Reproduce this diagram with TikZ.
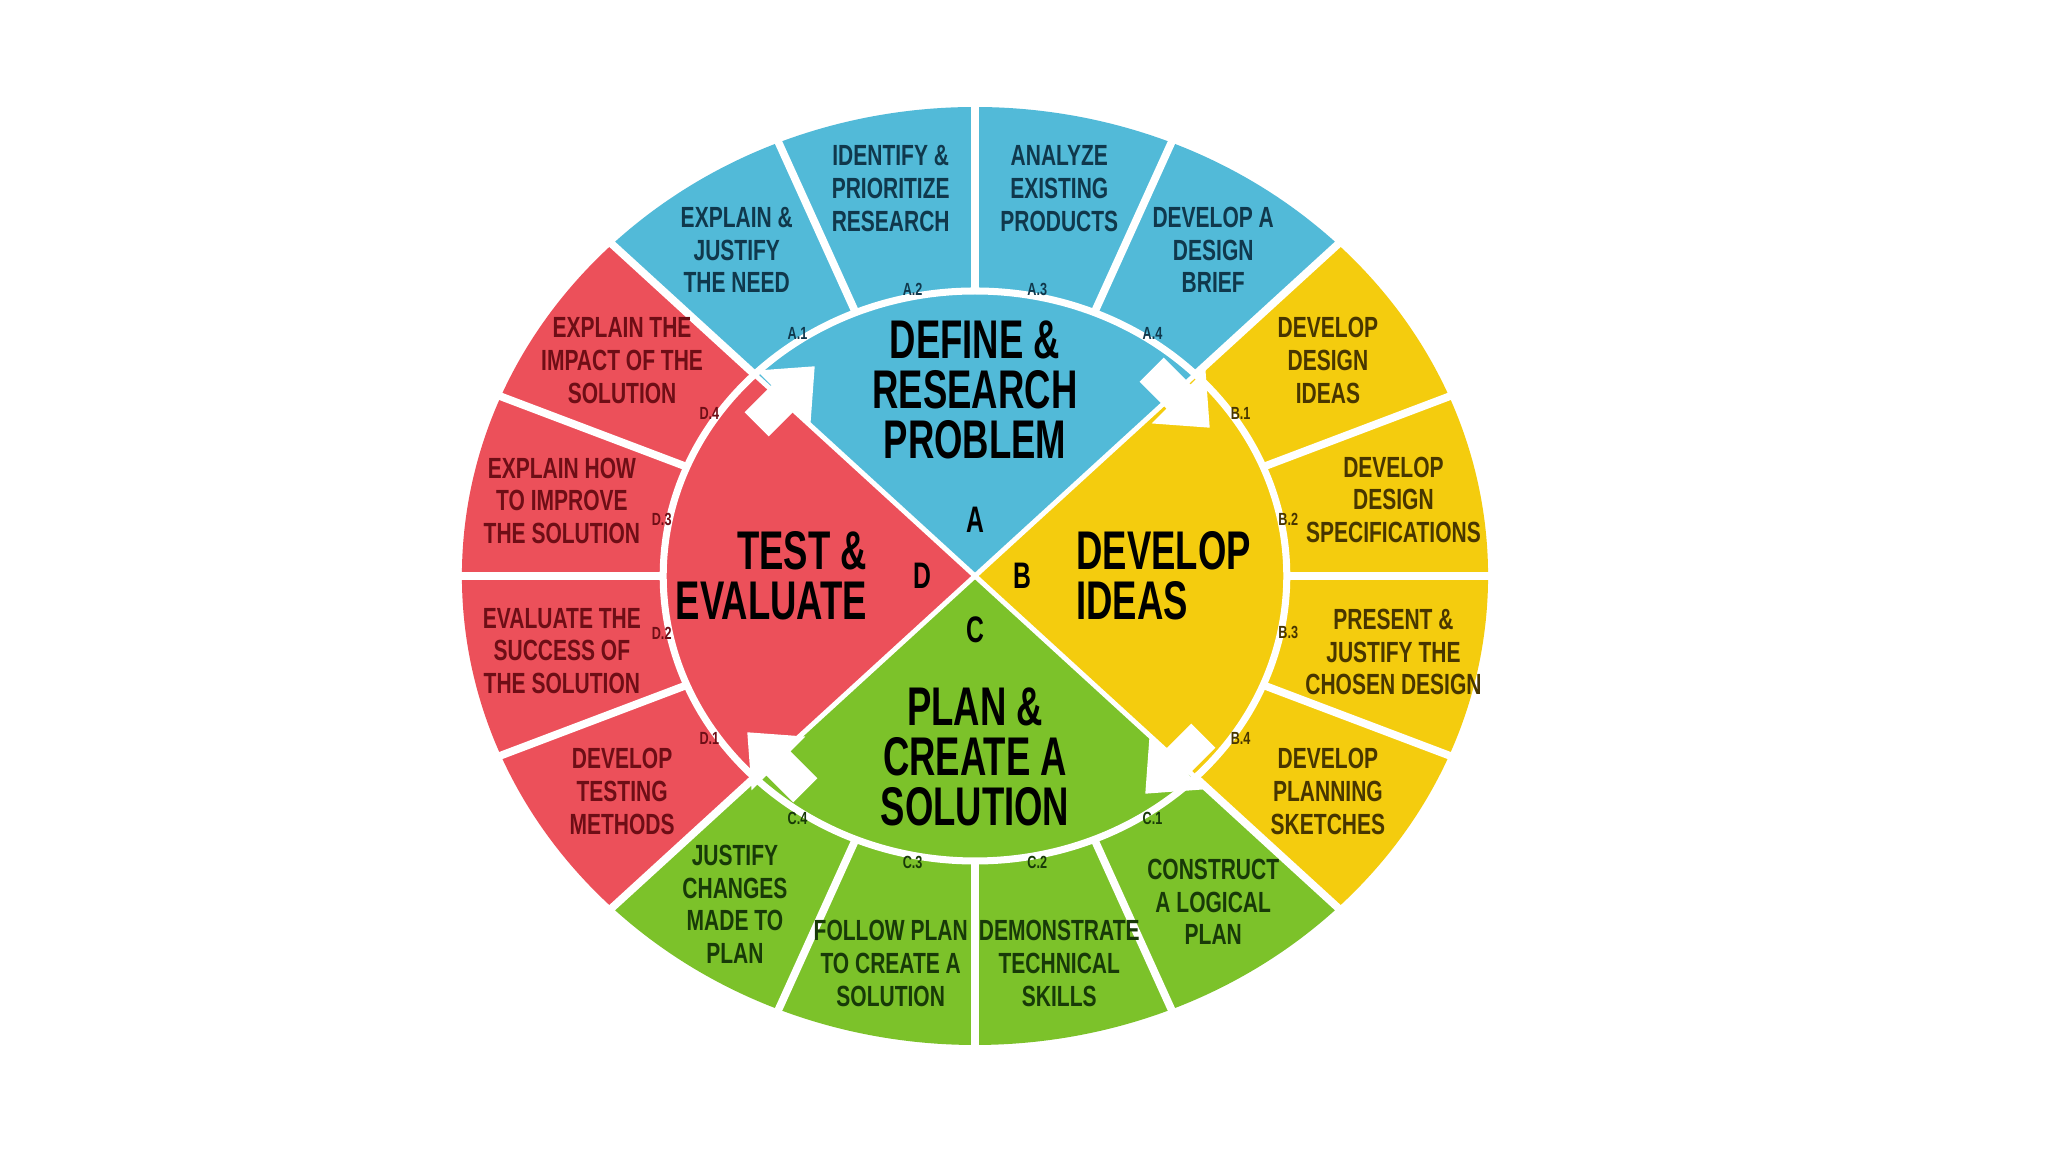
\documentclass[tikz,border=0pt]{standalone}
\usepackage{fontspec}
\setmainfont{Liberation Sans}
\newfontfamily\ringfont[FakeStretch=0.72]{Liberation Sans}
\newfontfamily\titlefont[FakeStretch=0.67]{Liberation Sans}
\usepackage{xcolor}
\usepackage{tikz}

\definecolor{defblue}{RGB}{82,186,216}
\definecolor{devyellow}{RGB}{244,204,14}
\definecolor{plangreen}{RGB}{124,194,42}
\definecolor{testred}{RGB}{236,80,90}
\definecolor{bluetext}{RGB}{16,56,76}
\definecolor{yellowtext}{RGB}{72,54,0}
\definecolor{greentext}{RGB}{24,58,8}
\definecolor{redtext}{RGB}{110,14,22}

\begin{document}
\begin{tikzpicture}
    [ringtext/.style = {align=center, inner sep=0pt,
                        font=\ringfont\bfseries\fontsize{8.3}{9.3}\selectfont},
     tag/.style = {inner sep=0pt,
                   font=\ringfont\bfseries\fontsize{5}{5}\selectfont},
     title/.style = {align=center, inner sep=0pt,
                     font=\titlefont\bfseries\fontsize{15.5}{14.2}\selectfont},
     letter/.style = {inner sep=0pt,
                      font=\titlefont\bfseries\fontsize{10.5}{10.5}\selectfont},
     divider/.style = {white, line width=2.2pt},
     cyclearrow/.pic = {\fill[white] (-0.4,-0.17) -- (-0.02,-0.17) -- (-0.02,-0.38)
                        -- (0.42,0) -- (-0.02,0.38) -- (-0.02,0.17) -- (-0.4,0.17) -- cycle;}]
    \useasboundingbox (0,0) rectangle (20.48,11.52);
    \fill[white] (0,0) rectangle (20.48,11.52);
    \begin{scope}[shift={(9.75,5.76)}, xscale=1.094]
        % Cuadrantes
        \fill[defblue] (0,0) -- (45:4.69) arc[start angle=45, end angle=135, radius=4.69] -- cycle;
        \fill[devyellow] (0,0) -- (-45:4.69) arc[start angle=-45, end angle=45, radius=4.69] -- cycle;
        \fill[plangreen] (0,0) -- (225:4.69) arc[start angle=225, end angle=315, radius=4.69] -- cycle;
        \fill[testred] (0,0) -- (135:4.69) arc[start angle=135, end angle=225, radius=4.69] -- cycle;
        % Separadores
        \foreach \a in {0,22.5,...,337.5}
            \draw[divider] (\a:2.85) -- (\a:4.8);
        \foreach \a in {45,135,225,315}
            \draw[white, line width=1.4pt] (0,0) -- (\a:2.85);
        \draw[white, line width=2pt] (0,0) circle[radius=2.85];
        % Centro
        \node[title] (define) at (0,1.86) {DEFINE \&\\RESEARCH\\PROBLEM};
        \node[title, align=left, anchor=west] (develop) at (0.92,0) {DEVELOP\\IDEAS};
        \node[title] (plan) at (0,-1.81) {PLAN \&\\CREATE A\\SOLUTION};
        \node[title, align=right, anchor=east] (test) at (-0.98,0) {TEST \&\\EVALUATE};
        \node[letter] (a) at (0,0.56) {A};
        \node[letter] (b) at (0.43,0) {B};
        \node[letter] (c) at (0,-0.54) {C};
        \node[letter] (d) at (-0.48,0) {D};
        % Anillo A
        \node[ringtext, text=bluetext] (a1) at (123.75:3.92) {EXPLAIN \&\\JUSTIFY\\THE NEED};
        \node[ringtext, text=bluetext] (a2) at (101.25:3.95) {IDENTIFY \&\\PRIORITIZE\\RESEARCH};
        \node[ringtext, text=bluetext] (a3) at (78.75:3.95) {ANALYZE\\EXISTING\\PRODUCTS};
        \node[ringtext, text=bluetext] (a4) at (56.25:3.92) {DEVELOP A\\DESIGN\\BRIEF};
        % Anillo B
        \node[ringtext, text=yellowtext] (b1) at (33.75:3.88) {DEVELOP\\DESIGN\\IDEAS};
        \node[ringtext, text=yellowtext] (b2) at (11.25:3.9) {DEVELOP\\DESIGN\\SPECIFICATIONS};
        \node[ringtext, text=yellowtext] (b3) at (-11.25:3.9) {PRESENT \&\\JUSTIFY THE\\CHOSEN DESIGN};
        \node[ringtext, text=yellowtext] (b4) at (-33.75:3.88) {DEVELOP\\PLANNING\\SKETCHES};
        % Anillo C
        \node[ringtext, text=greentext] (c1) at (-56.25:3.92) {CONSTRUCT\\A LOGICAL\\PLAN};
        \node[ringtext, text=greentext] (c2) at (-78.75:3.95) {DEMONSTRATE\\TECHNICAL\\SKILLS};
        \node[ringtext, text=greentext] (c3) at (-101.25:3.95) {FOLLOW PLAN\\TO CREATE A\\SOLUTION};
        \node[ringtext, text=greentext] (c4) at (-123.75:3.95) {JUSTIFY\\CHANGES\\MADE TO\\PLAN};
        % Anillo D
        \node[ringtext, text=redtext] (d1) at (-146.25:3.88) {DEVELOP\\TESTING\\METHODS};
        \node[ringtext, text=redtext] (d2) at (-168.75:3.85) {EVALUATE THE\\SUCCESS OF\\THE SOLUTION};
        \node[ringtext, text=redtext] (d3) at (168.75:3.85) {EXPLAIN HOW\\TO IMPROVE\\THE SOLUTION};
        \node[ringtext, text=redtext] (d4) at (146.25:3.88) {EXPLAIN THE\\IMPACT OF THE\\SOLUTION};
        % Etiquetas
        \node[tag, text=bluetext] (a1tag) at (123.75:2.92) {A.1};
        \node[tag, text=bluetext] (a2tag) at (101.25:2.92) {A.2};
        \node[tag, text=bluetext] (a3tag) at (78.75:2.92) {A.3};
        \node[tag, text=bluetext] (a4tag) at (56.25:2.92) {A.4};
        \node[tag, text=yellowtext] (b1tag) at (33.75:2.92) {B.1};
        \node[tag, text=yellowtext] (b2tag) at (11.25:2.92) {B.2};
        \node[tag, text=yellowtext] (b3tag) at (-11.25:2.92) {B.3};
        \node[tag, text=yellowtext] (b4tag) at (-33.75:2.92) {B.4};
        \node[tag, text=greentext] (c1tag) at (-56.25:2.92) {C.1};
        \node[tag, text=greentext] (c2tag) at (-78.75:2.92) {C.2};
        \node[tag, text=greentext] (c3tag) at (-101.25:2.92) {C.3};
        \node[tag, text=greentext] (c4tag) at (-123.75:2.92) {C.4};
        \node[tag, text=redtext] (d1tag) at (-146.25:2.92) {D.1};
        \node[tag, text=redtext] (d2tag) at (-168.75:2.92) {D.2};
        \node[tag, text=redtext] (d3tag) at (168.75:2.92) {D.3};
        \node[tag, text=redtext] (d4tag) at (146.25:2.92) {D.4};
    \end{scope}
    % Flechas del ciclo
    \begin{scope}[shift={(9.75,5.76)}]
        \pic[rotate=-45] (arrowab) at (2.05,1.78) {cyclearrow};
        \pic[rotate=-135] (arrowbc) at (2.0,-1.88) {cyclearrow};
        \pic[rotate=135] (arrowcd) at (-1.98,-1.86) {cyclearrow};
        \pic[rotate=45] (arrowda) at (-1.9,1.8) {cyclearrow};
    \end{scope}
\end{tikzpicture}
\end{document}
